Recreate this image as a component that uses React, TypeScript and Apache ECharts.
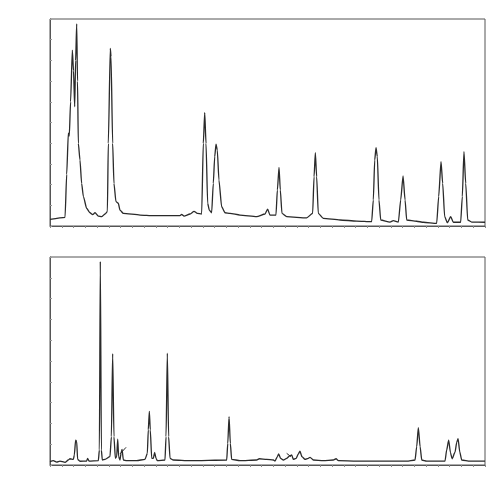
import React, { useEffect, useRef } from "react";
import * as echarts from "echarts";

// Retention time (min) vs detector signal (% of full scale)
const topTrace: [number, number][] = [
  [0, 3.2], [1.28, 4.2], [1.42, 25], [1.56, 44.8], [1.64, 43.5], [1.75, 60], [1.9, 85.0], [2.0, 75],
  [2.1, 57.6], [2.18, 80], [2.27, 97.6], [2.34, 70], [2.41, 39.9], [2.55, 31.9], [2.69, 20.6],
  [2.84, 14.2], [3.12, 8.5], [3.4, 6.4], [3.63, 5.5], [3.83, 6.4], [4.11, 4.8], [4.39, 4.5],
  [4.68, 5.8], [4.88, 6.9], [4.96, 39.9], [5.13, 85.8], [5.19, 81.8], [5.33, 39.9], [5.44, 20.6],
  [5.61, 11.8], [5.81, 11.0], [5.95, 7.7], [6.24, 6.1], [7.66, 5.3], [8.79, 5.0], [11.06, 5.0],
  [11.2, 5.6], [11.4, 4.8], [11.91, 5.8], [12.25, 7.1], [12.53, 6.1], [12.9, 5.8], [13.04, 39.9],
  [13.16, 54.8], [13.27, 39.9], [13.41, 11.0], [13.55, 7.7], [13.75, 6.4], [13.89, 20.6],
  [14.01, 33.5], [14.12, 39.5], [14.23, 36.7], [14.37, 22.2], [14.6, 9.3], [14.89, 6.4],
  [15.31, 6.1], [16.16, 5.3], [17.58, 4.5], [18.29, 5.8], [18.51, 8.1], [18.71, 5.3], [19.22, 5.3],
  [19.34, 17.4], [19.48, 28.3], [19.59, 17.4], [19.73, 6.1], [20.13, 4.5], [21.83, 3.9],
  [22.34, 6.1], [22.46, 23.8], [22.57, 35.4], [22.68, 23.8], [22.82, 6.1], [23.25, 3.7],
  [24.67, 2.9], [26.08, 2.4], [27.36, 2.1], [27.5, 12.6], [27.62, 31.9], [27.73, 37.8],
  [27.84, 33.5], [27.98, 12.6], [28.13, 2.9], [28.92, 1.9], [29.2, 2.6], [29.63, 1.9],
  [29.83, 12.6], [30.03, 24.2], [30.2, 12.6], [30.34, 2.9], [31.19, 2.3], [31.76, 1.8],
  [32.89, 1.3], [33.06, 14.2], [33.26, 31.1], [33.4, 20.6], [33.57, 4.5], [33.8, 1.6],
  [34.08, 4.5], [34.31, 1.8], [34.93, 1.8], [35.07, 14.2], [35.21, 35.9], [35.36, 20.6],
  [35.53, 2.9], [35.87, 1.9], [37, 1.8]
];

const bottomTrace: [number, number][] = [
  [0, 1.6], [0.28, 2.1], [0.57, 1.4], [0.85, 1.9], [1.28, 1.3], [1.56, 2.4], [1.7, 3.0],
  [1.99, 2.7], [2.07, 4.8], [2.18, 12.0], [2.27, 11.2], [2.35, 2.7], [2.55, 1.8], [3.12, 1.9],
  [3.2, 3.2], [3.32, 1.9], [4.11, 2.1], [4.2, 7.2], [4.28, 97.9], [4.37, 7.2], [4.45, 2.4],
  [4.68, 2.7], [5.1, 4.0], [5.22, 13.6], [5.33, 53.5], [5.44, 13.6], [5.56, 3.2], [5.67, 4.0],
  [5.76, 12.4], [5.84, 4.0], [5.95, 2.4], [6.04, 5.6], [6.13, 7.5], [6.24, 2.4], [6.52, 2.1],
  [7.37, 2.1], [8.08, 2.7], [8.28, 5.6], [8.36, 16.9], [8.45, 25.8], [8.53, 16.9], [8.65, 3.2],
  [8.79, 3.2], [8.9, 6.1], [9.02, 3.2], [9.13, 2.1], [9.78, 2.4], [9.87, 13.6], [9.98, 53.8],
  [10.09, 13.6], [10.21, 3.2], [10.49, 2.4], [11.91, 2.1], [15.03, 2.4], [15.12, 10.4],
  [15.23, 23.3], [15.34, 10.4], [15.45, 2.7], [16.16, 2.1], [17.58, 2.4], [17.8, 3.0],
  [18.43, 2.7], [19.0, 2.4], [19.14, 1.9], [19.34, 4.0], [19.45, 5.3], [19.62, 3.2],
  [19.85, 2.4], [20.13, 3.2], [20.36, 4.3], [20.56, 4.8], [20.7, 2.7], [20.93, 3.2],
  [21.12, 5.3], [21.26, 6.6], [21.43, 4.0], [21.69, 2.7], [21.97, 3.2], [22.12, 3.7],
  [22.4, 2.4], [23.25, 2.1], [24.1, 2.4], [24.33, 3.0], [24.53, 2.1], [26.08, 1.9],
  [30.34, 1.9], [31.05, 2.4], [31.19, 8.8], [31.33, 18.0], [31.48, 8.8], [31.62, 2.4],
  [32.04, 1.9], [33.6, 1.9], [33.74, 7.2], [33.91, 12.0], [34.06, 6.0], [34.2, 3.0],
  [34.45, 6.2], [34.6, 11.0], [34.71, 12.7], [34.85, 6.4], [35.02, 2.4], [35.73, 1.9], [37, 1.9]
];

// small integration marks drawn on the lower trace
const markA: [number, number][] = [[5.95, 5.3], [6.47, 8.5]];
const markB: [number, number][] = [[20.13, 5.6], [20.5, 4.0]];

const xMin = 0;
const xMax = 37;
const yMin = 0;
const yMax = 100;

export default function App() {
  const ref = useRef<HTMLDivElement>(null);
  useEffect(() => {
    document.body.style.margin = "0";
    const chart = echarts.init(ref.current!, undefined, { renderer: "svg" });
    const lineColor = "#2a2a2a";
    const frame = "#555";
    const xAxisBase = (gi: number) => ({
      type: "value",
      gridIndex: gi,
      min: xMin,
      max: xMax,
      interval: 1,
      axisLine: { show: true, lineStyle: { color: frame, width: 1 } },
      axisTick: { show: true, length: 2, lineStyle: { color: "#888" } },
      axisLabel: { show: false },
      splitLine: { show: false },
    });
    const yAxisBase = (gi: number) => ({
      type: "value",
      gridIndex: gi,
      min: yMin,
      max: yMax,
      interval: 10,
      axisLine: { show: true, lineStyle: { color: frame, width: 1 } },
      axisTick: { show: true, inside: true, length: 2, lineStyle: { color: "#999" } },
      axisLabel: { show: false },
      splitLine: { show: false },
    });
    const lineSeries = (data: [number, number][], gi: number, w = 1.3, smooth: number | boolean = 0.2) => ({
      type: "line",
      xAxisIndex: gi,
      yAxisIndex: gi,
      data,
      showSymbol: false,
      symbol: "none",
      smooth,
      smoothMonotone: "x",
      lineStyle: { color: lineColor, width: w },
      silent: true,
    });
    chart.setOption({
      animation: false,
      backgroundColor: "#fff",
      grid: [
        { left: 50, top: 19, width: 435, height: 207, show: true, borderColor: frame, borderWidth: 1 },
        { left: 50, top: 257, width: 435, height: 208, show: true, borderColor: frame, borderWidth: 1 },
      ],
      xAxis: [xAxisBase(0), xAxisBase(1)],
      yAxis: [yAxisBase(0), yAxisBase(1)],
      series: [
        lineSeries(topTrace, 0),
        lineSeries(bottomTrace, 1),
        lineSeries(markA, 1, 1, false),
        lineSeries(markB, 1, 1, false),
      ],
    });
    return () => chart.dispose();
  }, []);
  return <div ref={ref} style={{ width: 500, height: 490, position: "absolute", left: 0, top: 0 }} />;
}
